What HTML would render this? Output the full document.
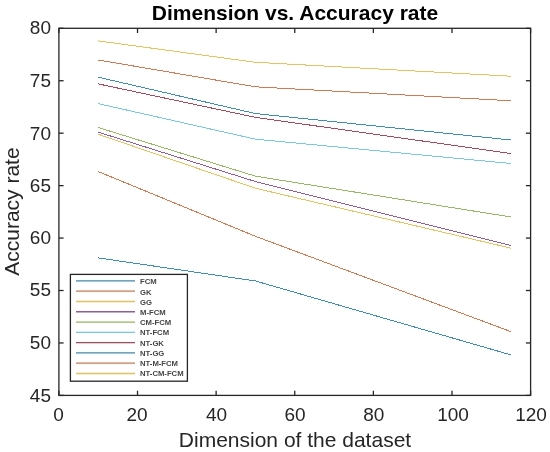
<!DOCTYPE html>
<html><head><meta charset="utf-8"><title>Dimension vs. Accuracy rate</title>
<style>
html,body{margin:0;padding:0;background:#fff;}
body{width:550px;height:452px;overflow:hidden;position:relative;}
svg{position:absolute;left:0;top:0;}
text{font-family:"Liberation Sans",Arial,sans-serif;}
</style></head><body>
<svg width="550" height="452" viewBox="0 0 550 452">
<rect x="0" y="0" width="550" height="452" fill="#fff"/>

<defs><filter id="bl" x="-5%" y="-5%" width="110%" height="110%"><feGaussianBlur stdDeviation="0.35"/></filter></defs>
<g filter="url(#bl)">
<g fill="none" stroke-width="2.6" stroke-linejoin="round" opacity="0.35">
<polyline points="98.21,257.89 255.44,280.97 510.95,354.91" stroke="#d7ffff"/>
<polyline points="98.21,171.57 255.44,236.29 510.95,331.63" stroke="#fff0d6"/>
<polyline points="98.21,134.23 255.44,188.25 510.95,248.14" stroke="#fffebd"/>
<polyline points="98.21,132.14 255.44,181.54 510.95,245.52" stroke="#ffefff"/>
<polyline points="98.21,127.52 255.44,176.19 510.95,216.99" stroke="#f5ffd5"/>
<polyline points="98.21,103.61 255.44,139.16 510.95,163.50" stroke="#d9ffff"/>
<polyline points="98.21,83.89 255.44,117.35 510.95,153.53" stroke="#ffebf7"/>
<polyline points="98.21,77.18 255.44,113.57 510.95,140.00" stroke="#d7ffff"/>
<polyline points="98.21,59.98 255.44,86.83 510.95,100.78" stroke="#fff0d6"/>
<polyline points="98.21,40.89 255.44,62.28 510.95,76.23" stroke="#fffebd"/>
</g>
<g fill="none" stroke-width="1" stroke-linejoin="round" shape-rendering="crispEdges">
<polyline points="98.21,257.89 255.44,280.97 510.95,354.91" stroke="#4f86aa"/>
<polyline points="98.21,171.57 255.44,236.29 510.95,331.63" stroke="#c08064"/>
<polyline points="98.21,134.23 255.44,188.25 510.95,248.14" stroke="#dec17b"/>
<polyline points="98.21,132.14 255.44,181.54 510.95,245.52" stroke="#8a6491"/>
<polyline points="98.21,127.52 255.44,176.19 510.95,216.99" stroke="#9ab377"/>
<polyline points="98.21,103.61 255.44,139.16 510.95,163.50" stroke="#8cc2d9"/>
<polyline points="98.21,83.89 255.44,117.35 510.95,153.53" stroke="#96525f"/>
<polyline points="98.21,77.18 255.44,113.57 510.95,140.00" stroke="#4f86aa"/>
<polyline points="98.21,59.98 255.44,86.83 510.95,100.78" stroke="#c08064"/>
<polyline points="98.21,40.89 255.44,62.28 510.95,76.23" stroke="#dec17b"/>
</g></g>
<g stroke="#262626" stroke-width="1.3" fill="none">
<rect x="58.9" y="28.3" width="471.70" height="367.10"/>
<line x1="58.90" y1="395.4" x2="58.90" y2="390.7"/>
<line x1="58.90" y1="28.3" x2="58.90" y2="33.0"/>
<line x1="137.52" y1="395.4" x2="137.52" y2="390.7"/>
<line x1="137.52" y1="28.3" x2="137.52" y2="33.0"/>
<line x1="216.13" y1="395.4" x2="216.13" y2="390.7"/>
<line x1="216.13" y1="28.3" x2="216.13" y2="33.0"/>
<line x1="294.75" y1="395.4" x2="294.75" y2="390.7"/>
<line x1="294.75" y1="28.3" x2="294.75" y2="33.0"/>
<line x1="373.37" y1="395.4" x2="373.37" y2="390.7"/>
<line x1="373.37" y1="28.3" x2="373.37" y2="33.0"/>
<line x1="451.98" y1="395.4" x2="451.98" y2="390.7"/>
<line x1="451.98" y1="28.3" x2="451.98" y2="33.0"/>
<line x1="530.60" y1="395.4" x2="530.60" y2="390.7"/>
<line x1="530.60" y1="28.3" x2="530.60" y2="33.0"/>
<line x1="58.9" y1="395.40" x2="63.6" y2="395.40"/>
<line x1="530.6" y1="395.40" x2="525.9" y2="395.40"/>
<line x1="58.9" y1="342.96" x2="63.6" y2="342.96"/>
<line x1="530.6" y1="342.96" x2="525.9" y2="342.96"/>
<line x1="58.9" y1="290.51" x2="63.6" y2="290.51"/>
<line x1="530.6" y1="290.51" x2="525.9" y2="290.51"/>
<line x1="58.9" y1="238.07" x2="63.6" y2="238.07"/>
<line x1="530.6" y1="238.07" x2="525.9" y2="238.07"/>
<line x1="58.9" y1="185.63" x2="63.6" y2="185.63"/>
<line x1="530.6" y1="185.63" x2="525.9" y2="185.63"/>
<line x1="58.9" y1="133.19" x2="63.6" y2="133.19"/>
<line x1="530.6" y1="133.19" x2="525.9" y2="133.19"/>
<line x1="58.9" y1="80.74" x2="63.6" y2="80.74"/>
<line x1="530.6" y1="80.74" x2="525.9" y2="80.74"/>
<line x1="58.9" y1="28.30" x2="63.6" y2="28.30"/>
<line x1="530.6" y1="28.30" x2="525.9" y2="28.30"/>
</g>
<g fill="#262626" font-size="19">
<text x="58.65" y="421" text-anchor="middle">0</text>
<text x="137.02" y="421" text-anchor="middle">20</text>
<text x="216.63" y="421" text-anchor="middle">40</text>
<text x="294.95" y="421" text-anchor="middle">60</text>
<text x="373.87" y="421" text-anchor="middle">80</text>
<text x="452.98" y="421" text-anchor="middle">100</text>
<text x="531.00" y="421" text-anchor="middle">120</text>
<text x="51" y="402" text-anchor="end">45</text>
<text x="51" y="349" text-anchor="end">50</text>
<text x="51" y="296" text-anchor="end">55</text>
<text x="51" y="244" text-anchor="end">60</text>
<text x="51" y="192" text-anchor="end">65</text>
<text x="51" y="140" text-anchor="end">70</text>
<text x="51" y="87" text-anchor="end">75</text>
<text x="51" y="34" text-anchor="end">80</text>
</g>
<text x="295" y="447" font-size="21" fill="#262626" text-anchor="middle">Dimension of the dataset</text>
<text transform="translate(18.5,211.6) rotate(-90)" x="0" y="0" font-size="21" fill="#262626" text-anchor="middle">Accuracy rate</text>
<text x="295" y="20" font-size="21" font-weight="bold" fill="#000" text-anchor="middle">Dimension vs. Accuracy rate</text>
<rect x="70.4" y="274.4" width="117.00" height="106.80" fill="#fff" stroke="#262626" stroke-width="1.3"/>
<line x1="76" y1="280.90" x2="135" y2="280.90" stroke="#d7ffff" stroke-width="3" opacity="0.5"/>
<line x1="76" y1="280.90" x2="135" y2="280.90" stroke="#5385a6" stroke-width="1.3"/>
<text x="140" y="284.45" font-size="7.7" font-weight="bold" fill="#454545">FCM</text>
<line x1="76" y1="291.19" x2="135" y2="291.19" stroke="#fff0d6" stroke-width="3" opacity="0.5"/>
<line x1="76" y1="291.19" x2="135" y2="291.19" stroke="#bc8168" stroke-width="1.3"/>
<text x="140" y="294.63" font-size="7.7" font-weight="bold" fill="#454545">GK</text>
<line x1="76" y1="301.48" x2="135" y2="301.48" stroke="#fffebd" stroke-width="3" opacity="0.5"/>
<line x1="76" y1="301.48" x2="135" y2="301.48" stroke="#dcc181" stroke-width="1.3"/>
<text x="140" y="304.81" font-size="7.7" font-weight="bold" fill="#454545">GG</text>
<line x1="76" y1="311.77" x2="135" y2="311.77" stroke="#ffefff" stroke-width="3" opacity="0.5"/>
<line x1="76" y1="311.77" x2="135" y2="311.77" stroke="#88658f" stroke-width="1.3"/>
<text x="140" y="314.99" font-size="7.7" font-weight="bold" fill="#454545">M-FCM</text>
<line x1="76" y1="322.06" x2="135" y2="322.06" stroke="#f5ffd5" stroke-width="3" opacity="0.5"/>
<line x1="76" y1="322.06" x2="135" y2="322.06" stroke="#9ab27b" stroke-width="1.3"/>
<text x="140" y="325.17" font-size="7.7" font-weight="bold" fill="#454545">CM-FCM</text>
<line x1="76" y1="332.35" x2="135" y2="332.35" stroke="#d9ffff" stroke-width="3" opacity="0.5"/>
<line x1="76" y1="332.35" x2="135" y2="332.35" stroke="#8fc1d6" stroke-width="1.3"/>
<text x="140" y="335.35" font-size="7.7" font-weight="bold" fill="#454545">NT-FCM</text>
<line x1="76" y1="342.64" x2="135" y2="342.64" stroke="#ffebf7" stroke-width="3" opacity="0.5"/>
<line x1="76" y1="342.64" x2="135" y2="342.64" stroke="#92535f" stroke-width="1.3"/>
<text x="140" y="345.53" font-size="7.7" font-weight="bold" fill="#454545">NT-GK</text>
<line x1="76" y1="352.93" x2="135" y2="352.93" stroke="#d7ffff" stroke-width="3" opacity="0.5"/>
<line x1="76" y1="352.93" x2="135" y2="352.93" stroke="#5385a6" stroke-width="1.3"/>
<text x="140" y="355.71" font-size="7.7" font-weight="bold" fill="#454545">NT-GG</text>
<line x1="76" y1="363.22" x2="135" y2="363.22" stroke="#fff0d6" stroke-width="3" opacity="0.5"/>
<line x1="76" y1="363.22" x2="135" y2="363.22" stroke="#bc8168" stroke-width="1.3"/>
<text x="140" y="365.89" font-size="7.7" font-weight="bold" fill="#454545">NT-M-FCM</text>
<line x1="76" y1="373.51" x2="135" y2="373.51" stroke="#fffebd" stroke-width="3" opacity="0.5"/>
<line x1="76" y1="373.51" x2="135" y2="373.51" stroke="#dcc181" stroke-width="1.3"/>
<text x="140" y="376.07" font-size="7.7" font-weight="bold" fill="#454545">NT-CM-FCM</text>
</svg>
</body></html>
